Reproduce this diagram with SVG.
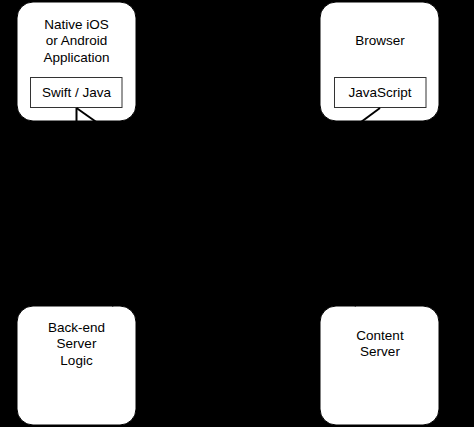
<svg xmlns="http://www.w3.org/2000/svg" width="474" height="427" viewBox="0 0 474 427">
<style>
.node{fill:#ffffff;stroke:#000000;stroke-width:1}
.inner{fill:#ffffff;stroke:#333333;stroke-width:1}
text{font-family:"Liberation Sans",Arial,sans-serif;font-size:13.5px;fill:#000000;text-anchor:middle}
.edge{fill:none;stroke:#000000;stroke-width:2}
</style>
<rect x="0" y="0" width="474" height="427" fill="#000000"/>
<g id="native">
<rect class="node" x="17" y="2" width="119" height="119" rx="16" ry="16"/>
<text x="76.5" y="28.5">Native iOS</text>
<text x="76.5" y="45">or Android</text>
<text x="76.5" y="61.5">Application</text>
</g>
<g id="swift">
<rect class="inner" x="30.5" y="77.5" width="91.5" height="30"/>
<text x="76.5" y="97">Swift / Java</text>
</g>
<g id="browser">
<rect class="node" x="320" y="2" width="119" height="119" rx="16" ry="16"/>
<text x="380" y="45">Browser</text>
</g>
<g id="javascript">
<rect class="inner" x="334.5" y="77.5" width="91.5" height="30"/>
<text x="380" y="97">JavaScript</text>
</g>
<g id="backend">
<rect class="node" x="17" y="306" width="119" height="119" rx="16" ry="16"/>
<text x="76.5" y="331.5">Back-end</text>
<text x="76.5" y="348">Server</text>
<text x="76.5" y="364.5">Logic</text>
</g>
<g id="content">
<rect class="node" x="320" y="306" width="119" height="119" rx="16" ry="16"/>
<text x="380" y="339.5">Content</text>
<text x="380" y="356">Server</text>
</g>
<g id="connectors">
<path class="edge" d="M76.5 108 L76.5 306"/>
<path class="edge" d="M76.5 108 L356 306"/>
<path class="edge" d="M380 108 L112 306"/>
</g>
</svg>
